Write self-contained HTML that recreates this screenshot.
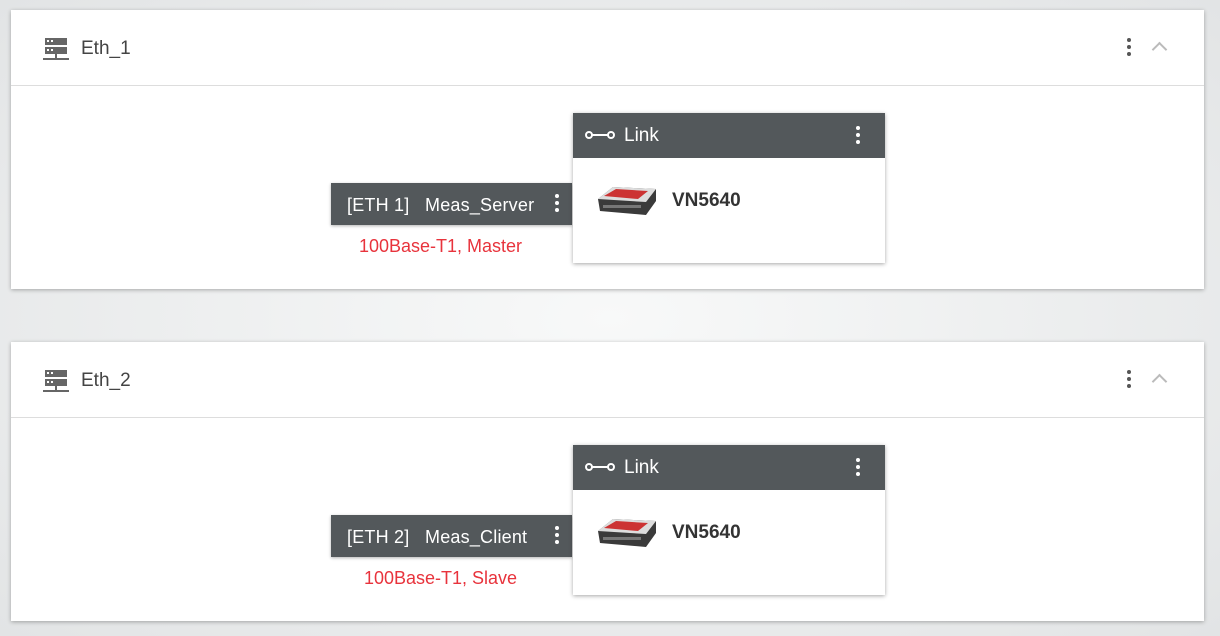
<!DOCTYPE html>
<html><head><style>
body{margin:0;width:1220px;height:636px;background:radial-gradient(ellipse at 50% 50%,#f8f9f9,#e2e4e5);font-family:"Liberation Sans",sans-serif;position:relative;overflow:hidden}
.panel{position:absolute;left:11px;width:1193px;height:279px;background:#fff;box-shadow:0 1px 4px rgba(0,0,0,.3)}
.hdr{position:absolute;left:0;top:0;width:100%;height:75px;border-bottom:1px solid #ddd}
.title{position:absolute;left:70px;top:28px;font-size:19px;color:#444}
.srv{position:absolute;left:32px;top:28px}
.dots{position:absolute;width:4px}
.dots i{display:block;width:4px;height:4px;border-radius:50%;background:#555;margin-bottom:3px}
.chev{position:absolute;left:1143px;top:34px;width:9px;height:9px;border-left:2px solid #bbb;border-top:2px solid #bbb;transform:rotate(45deg)}
.node{position:absolute;left:320px;top:173px;width:241px;height:42px;background:#53585b;color:#fff;font-size:18px;line-height:42px;box-shadow:0 1px 3px rgba(0,0,0,.3)}
.node span{position:absolute;left:16px;top:1px;letter-spacing:.2px}
.node .dots{left:224px;top:11px}
.node .dots i{background:#fff}
.lbl{position:absolute;top:226px;color:#e8333c;font-size:18px;width:241px;text-align:center;left:309px}
.card{position:absolute;left:562px;top:103px;width:312px;height:150px;background:#fff;box-shadow:0 1px 4px rgba(0,0,0,.35)}
.ch{height:45px;background:#53585b;color:#fff;font-size:19px;line-height:45px;position:relative}
.ch .dots{left:283px;top:13px}
.ch .dots i{background:#fff}
.dev{position:absolute;left:99px;top:77px;font-size:19px;font-weight:bold;color:#333}
</style></head><body>
<div class="panel" style="top:10px">
<div class="hdr">
<svg class="srv" width="26" height="24" viewBox="0 0 26 24"><rect x="2" y="0" width="22" height="7" fill="#666"/><rect x="2" y="9" width="22" height="7" fill="#666"/><rect x="4" y="2" width="2" height="2" fill="#fff"/><rect x="8" y="2" width="2" height="2" fill="#fff"/><rect x="4" y="11" width="2" height="2" fill="#fff"/><rect x="8" y="11" width="2" height="2" fill="#fff"/><rect x="12" y="16" width="2" height="5" fill="#666"/><rect x="0" y="20" width="26" height="2" fill="#666"/></svg>
<div class="title">Eth_1</div>
<div class="dots" style="left:1116px;top:28px"><i></i><i></i><i></i></div>
<div class="chev"></div>
</div>
<div class="node"><span>[ETH 1]&nbsp;&nbsp; Meas_Server</span><div class="dots"><i></i><i></i><i></i></div></div>
<div class="lbl">100Base-T1, Master</div>
<div class="card"><div class="ch"><svg style="position:absolute;left:12px;top:17px" width="30" height="10"><line x1="3" y1="5" x2="27" y2="5" stroke="#fff" stroke-width="2"/><circle cx="4" cy="5" r="3" fill="#53585b" stroke="#fff" stroke-width="2"/><circle cx="26" cy="5" r="3" fill="#53585b" stroke="#fff" stroke-width="2"/></svg><span style="position:absolute;left:51px">Link</span><div class="dots"><i></i><i></i><i></i></div></div>
<svg style="position:absolute;left:25px;top:72px" width="60" height="32"><polygon points="0,14 15,2 58,4 58,16 48,30 2,26" fill="#3a3a3a"/><polygon points="0,14 15,2 58,4 48,17" fill="#ddd"/><polygon points="6,11 18,4 50,6 40,14" fill="#c33"/><rect x="5" y="20" width="38" height="3" fill="#777"/></svg>
<div class="dev">VN5640</div></div>
</div>
<div class="panel" style="top:342px">
<div class="hdr">
<svg class="srv" width="26" height="24" viewBox="0 0 26 24"><rect x="2" y="0" width="22" height="7" fill="#666"/><rect x="2" y="9" width="22" height="7" fill="#666"/><rect x="4" y="2" width="2" height="2" fill="#fff"/><rect x="8" y="2" width="2" height="2" fill="#fff"/><rect x="4" y="11" width="2" height="2" fill="#fff"/><rect x="8" y="11" width="2" height="2" fill="#fff"/><rect x="12" y="16" width="2" height="5" fill="#666"/><rect x="0" y="20" width="26" height="2" fill="#666"/></svg>
<div class="title">Eth_2</div>
<div class="dots" style="left:1116px;top:28px"><i></i><i></i><i></i></div>
<div class="chev"></div>
</div>
<div class="node"><span>[ETH 2]&nbsp;&nbsp; Meas_Client</span><div class="dots"><i></i><i></i><i></i></div></div>
<div class="lbl">100Base-T1, Slave</div>
<div class="card"><div class="ch"><svg style="position:absolute;left:12px;top:17px" width="30" height="10"><line x1="3" y1="5" x2="27" y2="5" stroke="#fff" stroke-width="2"/><circle cx="4" cy="5" r="3" fill="#53585b" stroke="#fff" stroke-width="2"/><circle cx="26" cy="5" r="3" fill="#53585b" stroke="#fff" stroke-width="2"/></svg><span style="position:absolute;left:51px">Link</span><div class="dots"><i></i><i></i><i></i></div></div>
<svg style="position:absolute;left:25px;top:72px" width="60" height="32"><polygon points="0,14 15,2 58,4 58,16 48,30 2,26" fill="#3a3a3a"/><polygon points="0,14 15,2 58,4 48,17" fill="#ddd"/><polygon points="6,11 18,4 50,6 40,14" fill="#c33"/><rect x="5" y="20" width="38" height="3" fill="#777"/></svg>
<div class="dev">VN5640</div></div>
</div>
</body></html>
